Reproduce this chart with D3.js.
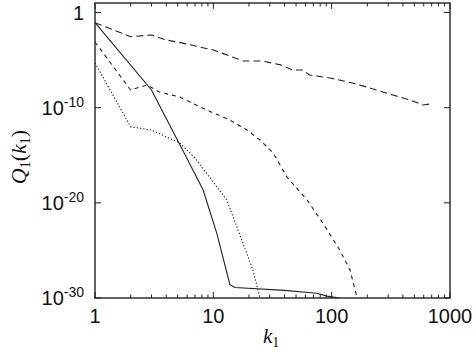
<!DOCTYPE html>
<html><head><meta charset="utf-8">
<script src="https://cdn.jsdelivr.net/npm/d3@7/dist/d3.min.js"></script>
<style>body{margin:0;background:#fff}svg{display:block}</style>
</head><body>
<svg id="c" width="474" height="351"></svg>
<script>
// Data: k1 values and log10 Q1(k1)
const kLongDash = [1,2,3,4,5,10,18,26,37,47,57,65,97,150,210,330,460,590,680];
const qLongDash = [-1.07,-2.54,-2.36,-2.89,-3.1,-3.94,-5.1,-5.1,-5.5,-6.04,-6.04,-6.57,-6.88,-7.41,-7.93,-8.67,-9.19,-9.72,-9.61];
const kShortDash = [1,2,2.75,3.5,5.2,8.8,13.8,19.3,24.8,32,42,62,84,117,143,164];
const qShortDash = [-3.1,-8.14,-7.62,-8.35,-8.88,-10.25,-11.3,-12.35,-13.4,-14.76,-17.3,-19.7,-22.1,-24.96,-27.06,-30];
const kSolid = [1,3,5.5,8.2,10.7,13.8,15.2,40,75,91,117];
const qSolid = [-1.07,-8.14,-14.45,-18.65,-23.2,-28.6,-28.9,-29.2,-29.5,-29.8,-30];
const kDotted = [1,2,3,5.2,6,7,13,18,21.6,24.8];
const qDotted = [-5.3,-12.0,-12.35,-13.7,-14.45,-15.3,-19.7,-24.4,-27.06,-30];
const xTicks = [1,10,100,1000];
const xTickLabels = ["1","10","100","1000"];
const yTicks = [0,-10,-20,-30];
const yTickLabels = [["1",""],["10","-10"],["10","-20"],["10","-30"]];

const svg = d3.select("#c");
const L=95, R=450, T=3, B=298;
const x = d3.scaleLog().domain([1,1000]).range([L,R]);
const y = d3.scaleLinear().domain([-30,1]).range([B,T]);

const clip = svg.append("clipPath").attr("id","cp").append("rect")
  .attr("x",L).attr("y",T).attr("width",R-L).attr("height",B-T);

const line = d3.line().x(d=>x(d[0])).y(d=>y(d[1]));
const series = [
  {k:kLongDash,q:qLongDash,dash:"7,4"},
  {k:kShortDash,q:qShortDash,dash:"4,4"},
  {k:kSolid,q:qSolid,dash:null},
  {k:kDotted,q:qDotted,dash:"1.3,2"}
];
const g = svg.append("g").attr("clip-path","url(#cp)");
series.forEach(s=>{
  g.append("path").datum(s.k.map((k,i)=>[k,s.q[i]]))
    .attr("d",line).attr("fill","none").attr("stroke","#222")
    .attr("stroke-width",1.1).attr("stroke-dasharray",s.dash);
});

// Frame
svg.append("rect").attr("x",L).attr("y",T).attr("width",R-L).attr("height",B-T)
  .attr("fill","none").attr("stroke","#222").attr("stroke-width",1.4);

// x ticks (log minors), inward on bottom and top
const minor = [];
for (let d=1; d<1000; d*=10) for (let m=2;m<=9;m++) minor.push(d*m);
const tg = svg.append("g").attr("stroke","#222").attr("stroke-width",1);
xTicks.forEach(t=>{
  tg.append("line").attr("x1",x(t)).attr("x2",x(t)).attr("y1",B).attr("y2",B-6);
  tg.append("line").attr("x1",x(t)).attr("x2",x(t)).attr("y1",T).attr("y2",T+6);
});
minor.forEach(t=>{
  tg.append("line").attr("x1",x(t)).attr("x2",x(t)).attr("y1",B).attr("y2",B-3.5);
  tg.append("line").attr("x1",x(t)).attr("x2",x(t)).attr("y1",T).attr("y2",T+3.5);
});
yTicks.forEach(t=>{
  tg.append("line").attr("x1",L).attr("x2",L+6).attr("y1",y(t)).attr("y2",y(t));
  tg.append("line").attr("x1",R).attr("x2",R-6).attr("y1",y(t)).attr("y2",y(t));
});

const font = "'Liberation Sans', Arial, Helvetica, sans-serif";
xTicks.forEach((t,i)=>{
  svg.append("text").attr("x",x(t)).attr("y",323).attr("text-anchor","middle")
    .attr("font-family",font).attr("font-size",20).attr("fill","#111").text(xTickLabels[i]);
});
yTicks.forEach((t,i)=>{
  const lab = yTickLabels[i];
  const tx = svg.append("text").attr("x",84).attr("y",y(t)+7).attr("text-anchor","end")
    .attr("font-family",font).attr("font-size",20).attr("fill","#111");
  tx.append("tspan").text(lab[0]);
  if (lab[1]) tx.append("tspan").attr("dy",-8).attr("font-size",14).text(lab[1]);
});

const serif = "'Liberation Serif', 'Times New Roman', serif";
const xl = svg.append("text").attr("x",263).attr("y",343)
  .attr("font-family",serif).attr("font-size",21).attr("fill","#111");
xl.append("tspan").attr("font-style","italic").text("k");
xl.append("tspan").attr("font-size",14).attr("dy",4).text("1");

const yl = svg.append("text").attr("transform","translate(26,157) rotate(-90)")
  .attr("text-anchor","middle").attr("font-family",serif).attr("font-size",22).attr("fill","#111");
yl.append("tspan").attr("font-style","italic").text("Q");
yl.append("tspan").attr("font-size",14).attr("dy",4).text("1");
yl.append("tspan").attr("dy",-4).text("(");
yl.append("tspan").attr("font-style","italic").text("k");
yl.append("tspan").attr("font-size",14).attr("dy",4).text("1");
yl.append("tspan").attr("dy",-4).text(")");
</script>
</body></html>
